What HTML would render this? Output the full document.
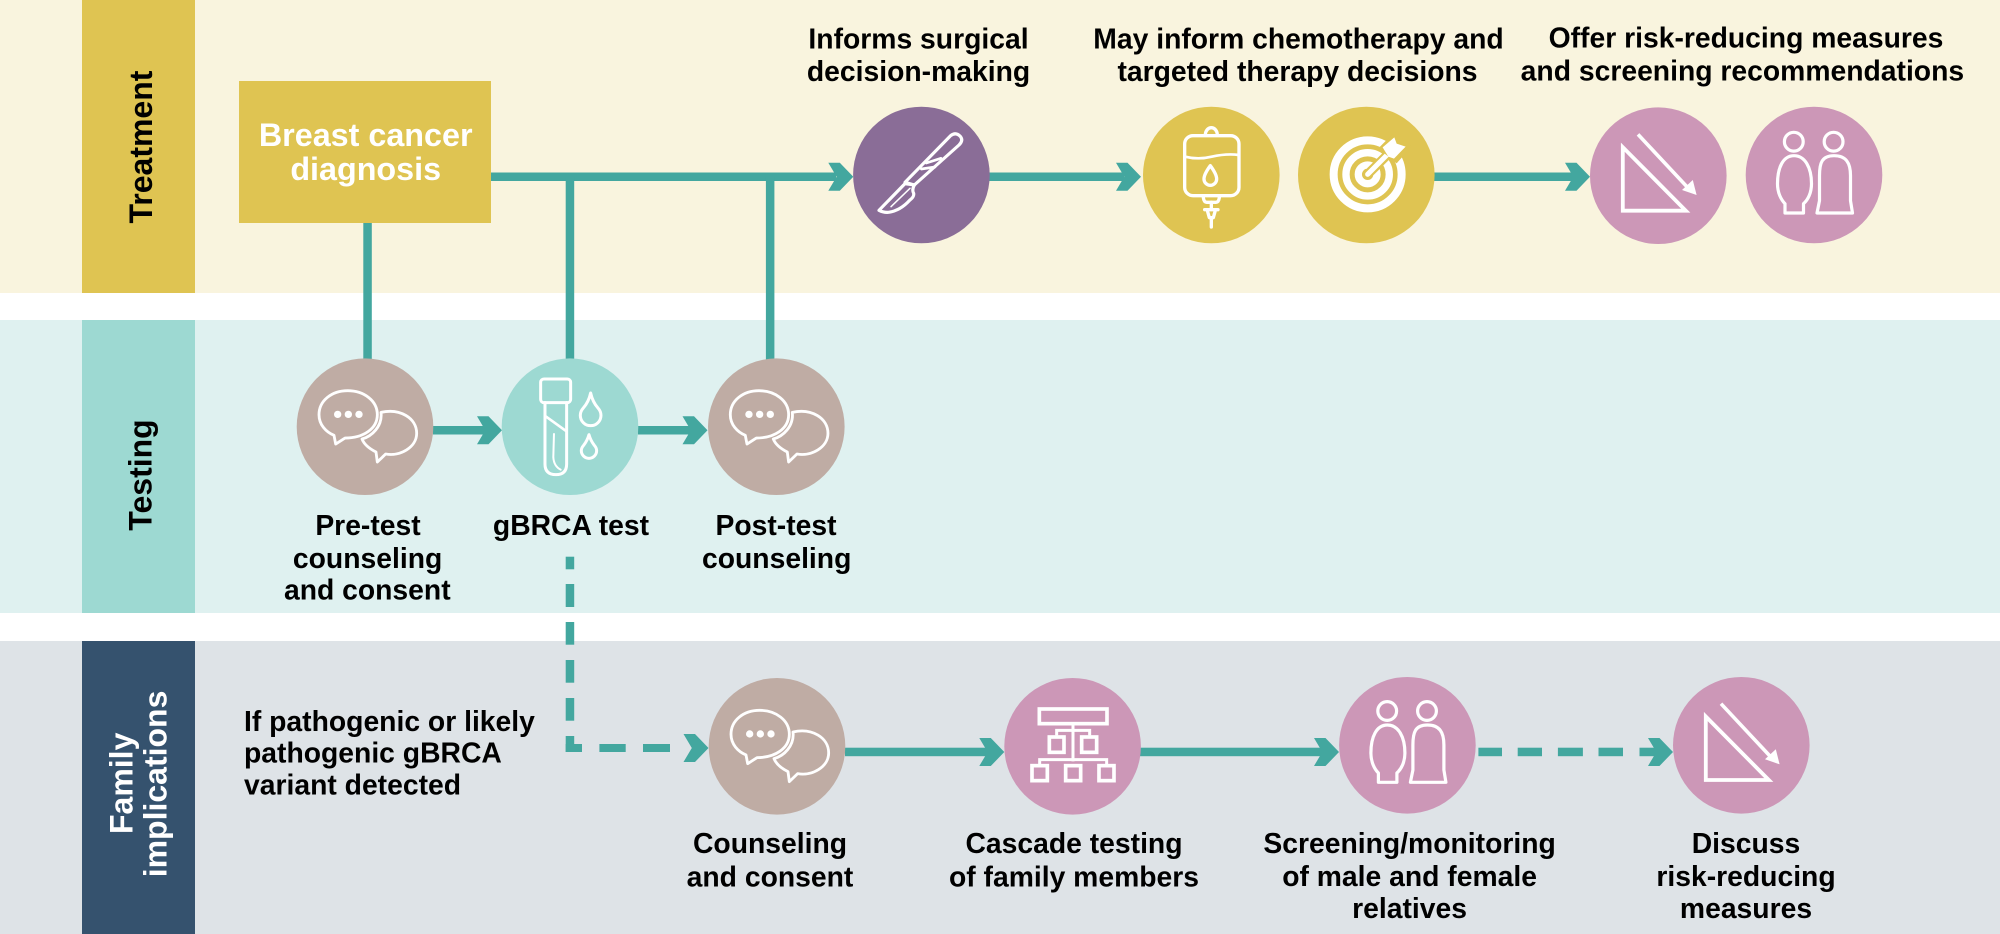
<!DOCTYPE html>
<html><head><meta charset="utf-8"><style>
html,body{margin:0;padding:0;background:#fff;width:2000px;height:934px;overflow:hidden}
svg{display:block}
text{font-family:"Liberation Sans",Arial,sans-serif;font-weight:bold;fill:#000}
.t{font-size:28.3px;text-anchor:middle}
.s{font-size:32px}
.i{fill:none;stroke:#fff;stroke-linejoin:round;stroke-linecap:round}
</style></head><body>
<svg width="2000" height="934" viewBox="0 0 2000 934" xmlns="http://www.w3.org/2000/svg">
<defs>
<polygon id="c" points="-25,-14 -13.500,-14 0,0 -13.500,14 -25,14 -16.700,0" fill="#43a79f"/>
<g id="chat" transform="scale(.3333) translate(-195,-206)">
  <path class="i" stroke-width="8.500" d="M143 98C95 98 57 128 57 170C57 200 78 222 102 232L107 258L135 240C190 240 232 212 232 170C232 128 192 98 143 98Z"/>
  <path class="i" stroke-width="8.500" d="M243 163C300 150 350 180 350 226C350 268 300 296 257 288L232 312L228 282C208 272 192 258 186 243C215 235 248 205 243 163Z"/>
  <circle cx="113" cy="169" r="11" fill="#fff"/><circle cx="145" cy="169" r="11" fill="#fff"/><circle cx="177" cy="169" r="11" fill="#fff"/>
</g>
<g id="tri">
  <polygon class="i" stroke-width="3.800" style="stroke-linejoin:miter" points="-35.500,-28.500 -35.500,35 27.500,35"/>
  <line x1="-20.300" y1="-41.300" x2="30" y2="12.500" stroke="#fff" stroke-width="3.600"/>
  <polygon points="38.300,19.300 23.700,14.300 34.500,4.300" fill="#fff"/>
</g>
<g id="ppl">
  <circle class="i" stroke-width="3.200" cx="-20.200" cy="-34" r="9.400"/>
  <circle class="i" stroke-width="3.200" cx="19.600" cy="-34" r="9.400"/>
  <path class="i" stroke-width="3.200" d="M-20-20C-31-20-36.500-8-36.500 8C-36.500 17-33 24-29 28L-29 37.300L-10.500 37.300L-10.500 28C-6 24-2.500 17-2.500 8C-2.500-8-9-20-20-20Z"/>
  <path class="i" stroke-width="3.200" d="M20-20C8-20 5.500-13 5.500 0L5.500 25L3 37.300L38.500 37.300L36.500 25L36.500 0C36.500-13 32-20 20-20Z"/>
</g>
</defs>

<!-- bands -->
<rect x="0" y="0" width="2000" height="293" fill="#f9f4de"/>
<rect x="0" y="320" width="2000" height="293" fill="#dff1f0"/>
<rect x="0" y="641" width="2000" height="293" fill="#dee3e7"/>
<rect x="82" y="0" width="113" height="293" fill="#dfc452"/>
<rect x="82" y="320" width="113" height="293" fill="#9dd9d2"/>
<rect x="82" y="641" width="113" height="293" fill="#35526e"/>

<text class="s" transform="translate(152,223.500) rotate(-90)">Treatment</text>
<text class="s" transform="translate(151.700,530.700) rotate(-90)">Testing</text>
<text class="s" style="fill:#fff" transform="translate(132.700,834) rotate(-90)">Family</text>
<text class="s" style="fill:#fff" transform="translate(166.700,877.300) rotate(-90)">implications</text>

<!-- diagnosis box -->
<rect x="239" y="81" width="252" height="142" fill="#dfc452"/>
<text class="s" style="fill:#fff;text-anchor:middle;font-size:32.300px" x="365.700" y="146">Breast cancer</text>
<text class="s" style="fill:#fff;text-anchor:middle;font-size:32.300px" x="365.700" y="180">diagnosis</text>

<!-- connectors -->
<g fill="#43a79f">
<rect x="491" y="172.500" width="345" height="8.500"/>
<rect x="989" y="172.500" width="135" height="8.500"/>
<rect x="1434" y="172.500" width="140" height="8.500"/>
<rect x="363.300" y="223" width="8.500" height="137"/>
<rect x="565.700" y="177" width="8.500" height="183"/>
<rect x="765.900" y="177" width="8.500" height="183"/>
<rect x="433" y="426" width="57" height="8.500"/>
<rect x="638" y="426" width="57" height="8.500"/>
<!-- dashed vertical -->
<rect x="565.700" y="556.700" width="8.500" height="12.600"/>
<rect x="565.700" y="584" width="8.500" height="23"/>
<rect x="565.700" y="622" width="8.500" height="22.700"/>
<rect x="565.700" y="660" width="8.500" height="22.700"/>
<rect x="565.700" y="698" width="8.500" height="22.700"/>
<rect x="565.700" y="736" width="8.500" height="16"/>
<rect x="565.700" y="744" width="16.300" height="8"/>
<rect x="599.400" y="744" width="26.300" height="8"/>
<rect x="643" y="744" width="27" height="8"/>
<!-- family row -->
<rect x="845" y="747.700" width="145" height="8.500"/>
<rect x="1140" y="747.700" width="185" height="8.500"/>
<rect x="1478.400" y="747.700" width="23.600" height="8.500"/>
<rect x="1517.700" y="747.700" width="24.300" height="8.500"/>
<rect x="1557.900" y="747.700" width="25" height="8.500"/>
<rect x="1598.500" y="747.700" width="24.500" height="8.500"/>
<rect x="1639.500" y="747.700" width="20" height="8.500"/>
</g>
<use href="#c" x="853.300" y="176.700"/>
<use href="#c" x="1141" y="176.700"/>
<use href="#c" x="1590" y="176.700"/>
<use href="#c" x="502" y="430.300"/>
<use href="#c" x="707.500" y="430.300"/>
<use href="#c" x="708.500" y="748"/>
<use href="#c" x="1004.300" y="752"/>
<use href="#c" x="1339" y="752"/>
<use href="#c" x="1673" y="752"/>

<!-- circles -->
<circle cx="921.400" cy="175" r="68.300" fill="#8a6d97"/>
<circle cx="1211.300" cy="175" r="68.300" fill="#dfc452"/>
<circle cx="1366.300" cy="175" r="68.300" fill="#dfc452"/>
<circle cx="1658.300" cy="175.700" r="68.300" fill="#cc97b7"/>
<circle cx="1814" cy="175" r="68.300" fill="#cc97b7"/>
<circle cx="365" cy="426.700" r="68.300" fill="#bfaca4"/>
<circle cx="570" cy="426.700" r="68.300" fill="#9dd9d2"/>
<circle cx="776.300" cy="426.700" r="68.300" fill="#bfaca4"/>
<circle cx="777" cy="746.300" r="68.300" fill="#bfaca4"/>
<circle cx="1072.600" cy="746.300" r="68.300" fill="#cc97b7"/>
<circle cx="1407.400" cy="745.300" r="68.300" fill="#cc97b7"/>
<circle cx="1741.300" cy="745.300" r="68.300" fill="#cc97b7"/>

<!-- scalpel -->
<g transform="translate(855,105) scale(.3333)">
  <path class="i" stroke-width="9.500" d="M150 232L287 92Q302 80 316 94Q326 106 312 120L178 240Z"/>
  <path class="i" stroke-width="9.500" d="M150 236L178 240Q170 255 176 265Q178 275 165 285Q135 318 100 322Q85 323 72 316Z"/>
  <path class="i" stroke-width="8" d="M199 192L240 186M214 174L258 160"/>
  <path class="i" stroke-width="4.500" d="M108 305L165 250"/>
</g>
<!-- IV bag -->
<g transform="translate(1140,105) scale(.3333)">
  <rect class="i" stroke-width="10" x="134" y="92" width="163" height="180" rx="25"/>
  <path class="i" stroke-width="10" d="M196 90A18 22 0 1 1 232 90"/>
  <path class="i" stroke-width="8" d="M135 155Q175 165 215 155Q260 145 297 150"/>
  <path class="i" stroke-width="10" d="M211 182Q192 208 192 222A19 19 0 0 0 230 222Q230 208 211 182Z"/>
  <path class="i" stroke-width="10" d="M190 278Q192 292 200 292L228 292Q236 292 238 278"/>
  <path class="i" stroke-width="10" d="M214 292L214 312M194 314L234 314M203 320L208 338L220 338L225 320M214 338L214 366"/>
</g>
<!-- target -->
<g transform="translate(1140,105) scale(.3333)">
  <circle class="i" stroke-width="24" cx="683" cy="208" r="102"/>
  <circle class="i" stroke-width="22" cx="683" cy="208" r="65"/>
  <circle class="i" stroke-width="22" cx="683" cy="208" r="28"/>
  <path d="M690 201L750 142" stroke="#dfc452" stroke-width="28" fill="none"/>
  <path d="M683 208L745 146" stroke="#fff" stroke-width="15" stroke-linecap="round" fill="none"/>
  <polygon fill="#dfc452" points="715,130 765,80 815,125 770,175"/>
  <polygon fill="#fff" points="728,127 763,97 770,116 797,125 762,161 745,155"/>
</g>
<!-- triangle + people -->
<use href="#tri" x="1658.300" y="175.700"/>
<use href="#ppl" x="1814" y="175.700"/>
<use href="#ppl" x="1407.400" y="745"/>
<use href="#tri" x="1741.300" y="745"/>
<!-- chats -->
<use href="#chat" x="365" y="426.700"/>
<use href="#chat" x="776.300" y="426.700"/>
<use href="#chat" x="777" y="746.300"/>
<!-- test tube -->
<g transform="translate(300,358) scale(.3333)">
  <rect class="i" stroke-width="9" x="722" y="63" width="90" height="71" rx="10"/>
  <path class="i" stroke-width="9" d="M735 134L735 318Q735 350 768 350Q800 350 800 318L800 134"/>
  <path class="i" stroke-width="8" d="M737 175L797 218"/>
  <path class="i" stroke-width="6" d="M762 228L760 298Q762 325 782 335"/>
  <path class="i" stroke-width="9" d="M872 105Q866 132 850 150Q841 160 841 172A31 31 0 0 0 903 172Q903 160 894 150Q878 132 872 105Z"/>
  <path class="i" stroke-width="9" d="M867 230Q862 248 851 262Q844 270 844 278A23 23 0 0 0 890 278Q890 270 883 262Q872 248 867 230Z"/>
</g>
<!-- org chart -->
<g transform="translate(1005,678) scale(.3333)" fill="none" stroke="#fff" stroke-width="11">
  <rect x="103" y="93" width="203" height="44"/>
  <path d="M204 137L204 250M155 172L155 157L254 157L254 172M104 258L104 245L305 245L305 258" stroke-width="9"/>
  <rect x="133" y="177" width="44" height="46"/>
  <rect x="230" y="177" width="45" height="46"/>
  <rect x="81" y="263" width="46" height="45"/>
  <rect x="182" y="263" width="45" height="45"/>
  <rect x="282" y="263" width="45" height="45"/>
</g>

<!-- labels -->
<text class="t" x="918.500" y="48.300">Informs surgical</text>
<text class="t" x="918.500" y="81">decision-making</text>
<text class="t" x="1298.500" y="48.300">May inform chemotherapy and</text>
<text class="t" x="1297.500" y="81">targeted therapy decisions</text>
<text class="t" x="1746" y="47.700">Offer risk-reducing measures</text>
<text class="t" x="1742.400" y="80.300">and screening recommendations</text>

<text class="t" x="368" y="535">Pre-test</text>
<text class="t" x="367.600" y="568">counseling</text>
<text class="t" x="367.300" y="599.300">and consent</text>
<text class="t" x="571" y="535">gBRCA test</text>
<text class="t" x="776" y="535">Post-test</text>
<text class="t" x="776.700" y="568">counseling</text>

<text class="t" style="text-anchor:start" x="244" y="731">If pathogenic or likely</text>
<text class="t" style="text-anchor:start" x="244" y="762.700">pathogenic gBRCA</text>
<text class="t" style="text-anchor:start" x="244" y="794.300">variant detected</text>

<text class="t" x="770" y="853">Counseling</text>
<text class="t" x="770" y="886.500">and consent</text>
<text class="t" x="1074" y="853">Cascade testing</text>
<text class="t" x="1074" y="886.500">of family members</text>
<text class="t" x="1409.600" y="853">Screening/monitoring</text>
<text class="t" x="1409.600" y="886">of male and female</text>
<text class="t" x="1409.600" y="918">relatives</text>
<text class="t" x="1746" y="853">Discuss</text>
<text class="t" x="1746" y="886">risk-reducing</text>
<text class="t" x="1746" y="918">measures</text>
</svg>
</body></html>
